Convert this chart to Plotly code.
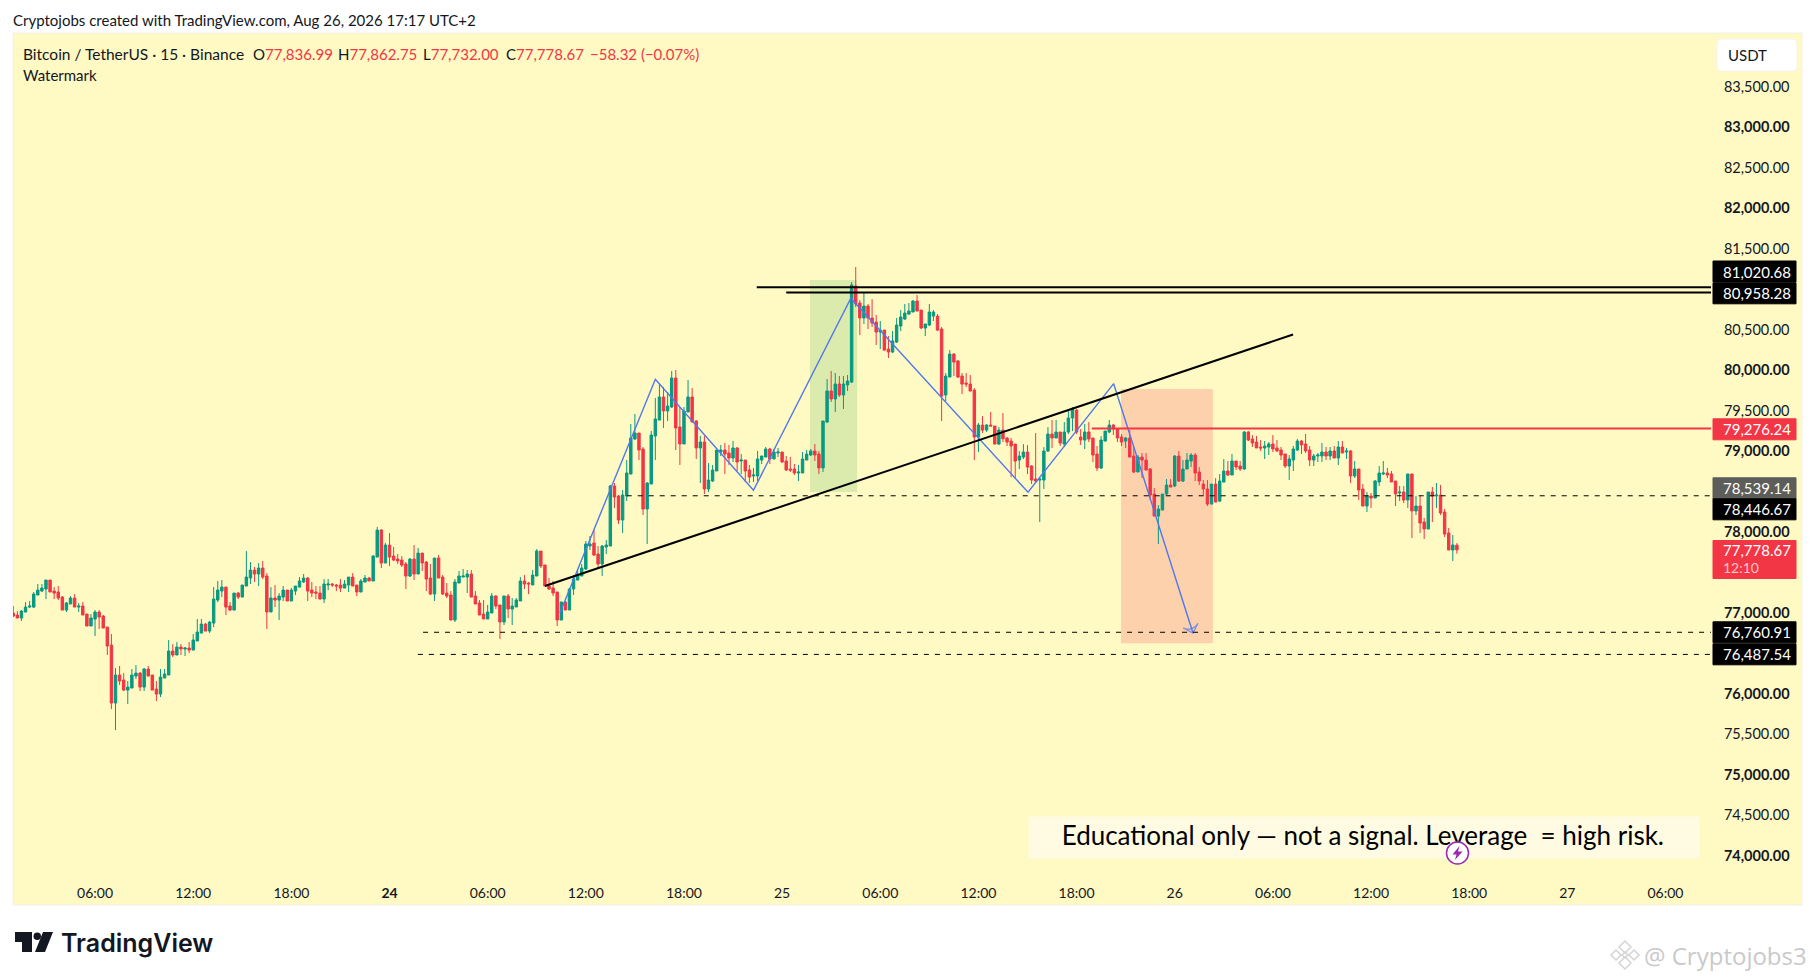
import pandas as pd
import plotly.graph_objects as go

# 15 minute candles, BTC/USDT
times = pd.date_range("2026-08-23 01:00", periods=354, freq="15min")

opens = [
    76998, 76974, 76937, 77011, 77072, 77072, 77221, 77270, 77295, 77406,
    77270, 77258, 77196, 77035, 77110, 77184, 77072, 77085, 76986, 76838,
    76924, 77011, 76961, 76825, 76603, 75887, 76233, 76171, 76047, 76072,
    76220, 76257, 76084, 76307, 76233, 76060, 75998, 76196, 76233, 76529,
    76480, 76578, 76554, 76566, 76541, 76653, 76751, 76862, 76776, 76875,
    77159, 77270, 77319, 77085, 77035, 77245, 77196, 77332, 77431, 77529,
    77480, 77554, 77455, 77011, 77184, 77159, 77196, 77282, 77147, 77270,
    77319, 77381, 77431, 77282, 77258, 77245, 77171, 77344, 77357, 77344,
    77344, 77307, 77344, 77443, 77344, 77258, 77381, 77431, 77394, 77690,
    78023, 77616, 77838, 77702, 77665, 77653, 77604, 77455, 77665, 77480,
    77739, 77628, 77431, 77233, 77678, 77443, 77245,
    77221, 76912, 77369, 77443, 77443, 77480, 77209, 77122, 76986, 76925,
    76999, 77209, 77098, 76888, 77209, 77048, 77073, 77147, 77394, 77369,
    77345, 77456, 77764, 77592, 77332, 77307, 77258, 76912, 77135, 77036,
    77295, 77406, 77456, 77542, 77826, 77863, 77727, 77604, 77814, 77826,
    78567, 78444, 78147, 78444, 78715, 79148, 79222, 79024, 78283, 78592,
    79185, 79382, 79667, 79494, 79543, 79901, 79296, 79086, 79481, 79667,
    79370, 79037, 79111, 78530, 78629, 78753, 78987, 79012, 78975, 78913,
    79037, 78876, 78888, 78765, 78691, 78691, 78888, 78925, 79024, 78901,
    78975, 78987, 78876, 78777, 78777, 78728, 78728, 78888, 78950, 79000,
    78962, 78790, 79358, 79741, 79642, 79827, 79691, 79815,
    79851, 81037, 80827, 80642, 80790, 80642, 80592, 80469, 80493, 80259,
    80222, 80345, 80543, 80629, 80691, 80716, 80852, 80740, 80518, 80555,
    80666, 80666, 80506, 79691, 79913, 80197, 80111, 79925, 79839, 79826,
    79752, 79172, 79320, 79258, 79320, 79308, 79085, 79258, 79160, 79122,
    79085, 78888, 78925, 78987, 78814, 78653, 78641, 78641, 78999, 79209,
    79160, 79234, 79085, 79234, 79407, 79505, 79172, 79135, 79234, 79160,
    78962, 78789, 79122, 79234, 79320, 79271, 79172, 79122, 79160, 78937,
    78740, 78925, 78888, 78777, 78468, 78196, 78270, 78468, 78579, 78567,
    78937, 78628, 78777, 78875, 78950, 78740, 78591, 78530, 78344, 78591,
    78381, 78616, 78753,
    78703, 78876, 78814, 78777, 79234, 79148, 79111, 79049, 79037, 79049,
    79086, 79037, 79012, 78963, 78814, 78888, 79012, 79123, 79086, 79012,
    78888, 78938, 78938, 78987, 78938, 79000, 78913, 79049, 78987, 79000,
    78691, 78777, 78530, 78320, 78444, 78419, 78617, 78716, 78728, 78716,
    78629, 78481, 78493, 78394, 78716, 78259, 78320, 78123, 78036, 78493,
    78444, 78456, 78246, 77987, 77777, 77836.99,
]
highs = [
    77085, 77023, 77035, 77134, 77147, 77258, 77357, 77357, 77406, 77406,
    77319, 77332, 77208, 77134, 77208, 77233, 77122, 77134, 76986, 76986,
    77035, 77035, 76974, 76825, 76739, 76319, 76344, 76257, 76158, 76307,
    76356, 76270, 76319, 76344, 76233, 76158, 76307, 76307, 76665, 76615,
    76640, 76615, 76578, 76640, 76739, 76924, 76924, 76875, 76900, 77319,
    77394, 77406, 77319, 77134, 77245, 77258, 77344, 77764, 77628, 77567,
    77616, 77641, 77492, 77319, 77344, 77245, 77332, 77282, 77307, 77332,
    77443, 77480, 77443, 77381, 77332, 77332, 77418, 77418, 77369, 77357,
    77418, 77406, 77443, 77492, 77344, 77418, 77468, 77443, 77715, 78061,
    78036, 77863, 77986, 77814, 77727, 77702, 77628, 77678, 77838, 77801,
    77739, 77641, 77604, 77678, 77715, 77468, 77369,
    77270, 77419, 77517, 77542, 77530, 77530, 77270, 77159, 77159, 77098,
    77246, 77221, 77098, 77209, 77233, 77184, 77184, 77443, 77468, 77382,
    77530, 77789, 77764, 77592, 77431, 77394, 77258, 77135, 77147, 77307,
    77468, 77542, 77604, 77888, 77950, 78024, 77826, 77839, 77900, 78580,
    78604, 78456, 78518, 78888, 79333, 79457, 79222, 79049, 78617, 79247,
    79654, 79839, 79790, 79728, 79988, 80000, 79543, 79543, 79876, 79778,
    79382, 79185, 79185, 78851, 78827, 79012, 79074, 79098, 79074, 79123,
    79049, 78962, 78888, 78827, 78790, 79000, 78938, 79049, 79037, 79024,
    79037, 78987, 78938, 78925, 78839, 78827, 78987, 79012, 79024, 79086,
    79000, 79370, 79889, 79988, 79963, 79926, 79926, 79938,
    81086, 81272, 80864, 80950, 80815, 80876, 80679, 80605, 80493, 80419,
    80481, 80642, 80740, 80815, 80827, 80864, 80926, 80740, 80568, 80815,
    80740, 80691, 80530, 79962, 80246, 80209, 80123, 79962, 79962, 79938,
    79777, 79345, 79431, 79332, 79481, 79308, 79295, 79468, 79172, 79160,
    79085, 78999, 79085, 79073, 78826, 79221, 78665, 79048, 79295, 79382,
    79382, 79234, 79357, 79493, 79542, 79518, 79271, 79332, 79357, 79160,
    79061, 79184, 79246, 79382, 79332, 79271, 79209, 79172, 79258, 79048,
    78950, 78974, 78974, 78789, 78542, 78332, 78468, 78653, 78653, 78950,
    78999, 78888, 78974, 78974, 78974, 78801, 78641, 78641, 78591, 78665,
    78715, 78900, 78876,
    78963, 78876, 78876, 79247, 79247, 79197, 79185, 79135, 79123, 79111,
    79197, 79135, 79049, 78963, 78950, 79061, 79148, 79135, 79210, 79061,
    78963, 78975, 79098, 79049, 79049, 79061, 79123, 79123, 79037, 79012,
    78876, 78777, 78592, 78493, 78481, 78641, 78814, 78876, 78790, 78753,
    78629, 78567, 78567, 78716, 78716, 78444, 78444, 78172, 78493, 78555,
    78604, 78580, 78283, 78049, 77962, 77862.75,
]
lows = [
    76949, 76937, 76900, 77011, 77060, 77060, 77221, 77258, 77171, 77258,
    77171, 77159, 77035, 77011, 77110, 77072, 77011, 76974, 76838, 76838,
    76714, 76801, 76813, 76480, 75813, 75553, 76109, 76035, 75874, 76072,
    76183, 76035, 76035, 76220, 76047, 75911, 75961, 76196, 76233, 76455,
    76480, 76480, 76467, 76504, 76541, 76653, 76751, 76776, 76751, 76825,
    77134, 77196, 76974, 77023, 77035, 77171, 77196, 77332, 77357, 77381,
    77332, 77418, 76801, 77011, 77072, 76912, 77147, 77147, 77147, 77221,
    77319, 77369, 77147, 77196, 77171, 77171, 77122, 77282, 77319, 77270,
    77258, 77307, 77258, 77332, 77208, 77258, 77381, 77394, 77394, 77690,
    77554, 77616, 77579, 77641, 77604, 77567, 77295, 77443, 77406, 77480,
    77517, 77270, 77221, 77147, 77431, 77221, 77184,
    76912, 76888, 77369, 77443, 77246, 77196, 77110, 76974, 76925, 76925,
    76999, 77048, 76678, 76850, 76937, 76850, 77073, 77147, 77295, 77233,
    77345, 77456, 77554, 77332, 77283, 77209, 76838, 76912, 77036, 77036,
    77221, 77406, 77456, 77530, 77777, 77703, 77554, 77456, 77727, 77826,
    78296, 78098, 77987, 78382, 78715, 79135, 78888, 78209, 77851, 78592,
    78888, 79382, 79284, 79370, 79531, 79012, 78827, 79086, 79481, 79358,
    78901, 78604, 78468, 78493, 78617, 78753, 78938, 78715, 78827, 78864,
    78753, 78715, 78617, 78604, 78617, 78629, 78839, 78925, 78839, 78901,
    78925, 78851, 78753, 78740, 78703, 78629, 78728, 78888, 78938, 78876,
    78715, 78740, 79345, 79605, 79481, 79667, 79518, 79741,
    79839, 80778, 80432, 80568, 80506, 80530, 80308, 80259, 80234, 80148,
    80209, 80333, 80481, 80617, 80679, 80716, 80728, 80506, 80419, 80543,
    80605, 80481, 79369, 79617, 79913, 79925, 79901, 79703, 79789, 79740,
    78888, 78987, 79221, 79234, 79308, 79085, 79073, 79110, 79061, 78678,
    78653, 78777, 78900, 78715, 78591, 78604, 78122, 78530, 78987, 79036,
    79160, 79061, 79048, 79209, 79246, 79209, 79073, 79024, 79110, 78863,
    78752, 78777, 79122, 79221, 79197, 79110, 79061, 79036, 78925, 78727,
    78740, 78665, 78764, 78394, 78196, 77850, 78270, 78456, 78554, 78554,
    78616, 78616, 78777, 78801, 78628, 78579, 78456, 78320, 78344, 78369,
    78369, 78616, 78691,
    78703, 78765, 78753, 78765, 79123, 79049, 79037, 79000, 78901, 78950,
    78987, 78987, 78888, 78790, 78641, 78753, 79000, 78963, 78975, 78814,
    78814, 78864, 78864, 78888, 78888, 78913, 78827, 78975, 78901, 78604,
    78666, 78394, 78320, 78246, 78296, 78419, 78567, 78703, 78666, 78617,
    78320, 78382, 78357, 78296, 77925, 78209, 77987, 77913, 78036, 78123,
    78296, 78209, 77937, 77777, 77641, 77732.00,
]
closes = [
    76961, 76937, 77023, 77072, 77085, 77233, 77282, 77307, 77406, 77258,
    77245, 77184, 77035, 77122, 77184, 77072, 77085, 76974, 76838, 76937,
    77011, 76949, 76813, 76591, 75887, 76233, 76158, 76047, 76084, 76233,
    76257, 76084, 76307, 76220, 76047, 75998, 76208, 76245, 76529, 76480,
    76578, 76554, 76566, 76541, 76665, 76764, 76862, 76776, 76887, 77171,
    77282, 77319, 77072, 77035, 77245, 77196, 77344, 77443, 77529, 77480,
    77554, 77443, 77011, 77184, 77159, 77208, 77282, 77147, 77282, 77332,
    77394, 77431, 77270, 77245, 77245, 77171, 77357, 77357, 77344, 77332,
    77307, 77357, 77443, 77332, 77258, 77394, 77431, 77394, 77702, 78023,
    77616, 77838, 77690, 77653, 77641, 77591, 77455, 77665, 77480, 77739,
    77616, 77418, 77233, 77678, 77431, 77233, 77208,
    76912, 77382, 77456, 77456, 77480, 77196, 77110, 76974, 76925, 77011,
    77209, 77085, 76888, 77209, 77048, 77085, 77159, 77394, 77357, 77357,
    77468, 77764, 77579, 77332, 77295, 77246, 76912, 77135, 77036, 77295,
    77419, 77468, 77554, 77851, 77851, 77715, 77604, 77826, 77839, 78567,
    78431, 78147, 78456, 78728, 79160, 79222, 79012, 78283, 78604, 79197,
    79395, 79667, 79494, 79555, 79901, 79284, 79086, 79494, 79667, 79358,
    79037, 79111, 78530, 78641, 78765, 79012, 79012, 78962, 78913, 79037,
    78864, 78888, 78753, 78678, 78703, 78901, 78938, 79024, 78901, 78987,
    78987, 78864, 78765, 78765, 78728, 78740, 78901, 78962, 79000, 78950,
    78790, 79370, 79741, 79642, 79827, 79691, 79827, 79864,
    81049, 80815, 80642, 80790, 80642, 80580, 80469, 80493, 80246, 80222,
    80358, 80555, 80654, 80703, 80728, 80852, 80728, 80518, 80568, 80716,
    80716, 80493, 79678, 79925, 80197, 80098, 79913, 79826, 79826, 79740,
    79172, 79320, 79258, 79320, 79308, 79085, 79258, 79151, 79110, 79061,
    78875, 78937, 78987, 78801, 78641, 78628, 78653, 78999, 79209, 79160,
    79234, 79098, 79234, 79407, 79518, 79234, 79135, 79234, 79147, 78950,
    78789, 79135, 79246, 79320, 79271, 79160, 79110, 79160, 78925, 78740,
    78925, 78888, 78764, 78456, 78196, 78283, 78468, 78579, 78554, 78937,
    78628, 78777, 78888, 78950, 78727, 78628, 78530, 78344, 78591, 78369,
    78628, 78752, 78703,
    78876, 78802, 78777, 79234, 79135, 79098, 79037, 79037, 79061, 79086,
    79024, 79000, 78950, 78814, 78901, 79024, 79123, 79074, 79000, 78888,
    78938, 78950, 78987, 78938, 79000, 78913, 79049, 78975, 79000, 78691,
    78777, 78518, 78320, 78444, 78419, 78629, 78728, 78728, 78703, 78617,
    78469, 78493, 78394, 78716, 78259, 78320, 78110, 78036, 78493, 78444,
    78456, 78234, 77974, 77777, 77839, 77778.67,
]
assert len(opens) == len(highs) == len(lows) == len(closes) == len(times)

# drawings on the chart
zigzag_times = ["2026-08-24 10:25", "2026-08-24 16:15", "2026-08-24 22:15", "2026-08-25 04:12",
                "2026-08-25 15:02", "2026-08-25 20:16", "2026-08-26 01:07"]
zigzag_prices = [76999, 79885, 78514, 80886, 78490, 79831, 76752]
trend_times = ["2026-08-24 09:30", "2026-08-26 07:14"]
trend_prices = [77332, 80438]
solid_levels = [81020.68, 80958.28]
solid_starts = ["2026-08-24 22:27", "2026-08-25 00:15"]
dashed_levels = [78446.67, 76760.91, 76487.54]
dashed_starts = ["2026-08-24 14:30", "2026-08-24 02:03", "2026-08-24 01:44"]
red_level = 79276.24
red_start = "2026-08-25 18:56"
green_box = ["2026-08-25 01:42", "2026-08-25 04:35", 78493, 81112]
orange_box = ["2026-08-25 20:43", "2026-08-26 02:20", 76625, 79765]
disclaimer = "Educational only — not a signal. Leverage  = high risk."

tick_prices = [83500, 83000, 82500, 82000, 81500, 80500, 80000, 79500, 79000,
               78000, 77000, 76000, 75500, 75000, 74500, 74000]
bold_prices = [83000, 82000, 80000, 79000, 78000, 77000, 76000, 75000, 74000]
tick_times = ["2026-08-23 06:00", "2026-08-23 12:00", "2026-08-23 18:00", "2026-08-24 00:00",
              "2026-08-24 06:00", "2026-08-24 12:00", "2026-08-24 18:00", "2026-08-25 00:00",
              "2026-08-25 06:00", "2026-08-25 12:00", "2026-08-25 18:00", "2026-08-26 00:00",
              "2026-08-26 06:00", "2026-08-26 12:00", "2026-08-26 18:00", "2026-08-27 00:00",
              "2026-08-27 06:00"]
tick_time_labels = ["06:00", "12:00", "18:00", "<b>24</b>", "06:00", "12:00", "18:00", "25",
                    "06:00", "12:00", "18:00", "26", "06:00", "12:00", "18:00", "27", "06:00"]

UP = "#089981"
DOWN = "#f23645"
INK = "#131722"
PANEL = "#fff9c4"
FONT = "Lato"

# plot area in screenshot pixels, everything around it is placed relative to this
L, R, T, B = 13, 1711, 33, 870
# the page body keeps its default 8px margin
PAGE = 8


def px(x):
    return (x - L) / (R - L)


def py(y):
    return (B - y) / (B - T)


def box(x0, y0, x1, y1, fill, layer="above"):
    return dict(type="rect", xref="paper", yref="paper", x0=px(x0), x1=px(x1), y0=py(y0), y1=py(y1),
                fillcolor=fill, line=dict(color=fill, width=1), layer=layer)


def path(points, fill="rgba(0,0,0,0)", line=None, width=1):
    d = "M" + " L".join(f"{px(x):.5f},{py(y):.5f}" for x, y in points) + " Z"
    return dict(type="path", xref="paper", yref="paper", path=d, fillcolor=fill,
                line=dict(color=line or fill, width=width if line else 0), layer="above")


def note(text, x, y, size=15, color=INK, anchor="left", family=FONT, weight=None):
    return dict(text=text, xref="paper", yref="paper", x=px(x), y=py(y), xanchor=anchor, yanchor="middle",
                showarrow=False, font=dict(family=family, size=size, color=color, weight=weight))


fig = go.Figure()

fig.add_trace(go.Candlestick(
    x=times, open=opens, high=highs, low=lows, close=closes,
    increasing=dict(line=dict(color=UP, width=1), fillcolor=UP),
    decreasing=dict(line=dict(color=DOWN, width=1), fillcolor=DOWN),
    whiskerwidth=0, showlegend=False, hoverinfo="skip",
))

fig.add_trace(go.Scatter(
    x=zigzag_times, y=zigzag_prices, mode="lines+markers", showlegend=False, hoverinfo="skip",
    line=dict(color="#4f77f0", width=1.4),
    marker=dict(symbol="arrow-wide-open", size=[0, 0, 0, 0, 0, 0, 11], angleref="previous",
                color="#4f77f0", line=dict(color="#4f77f0", width=1.4)),
))

# a text trace, not an annotation, so the lightning badge can sit on top of it
fig.add_trace(go.Scatter(
    x=["2026-08-26 11:30"], y=[74220], mode="text", text=[disclaimer], textposition="middle center",
    textfont=dict(family=FONT, size=26, color="black"), showlegend=False, hoverinfo="skip",
))

shapes = [
    # cream panel behind the whole chart, axes included
    dict(type="rect", xref="paper", yref="paper", x0=px(13), x1=px(1802), y0=py(33), y1=py(905),
         fillcolor=PANEL, line=dict(color="#f0f0ea", width=1), layer="below"),
    box(1029, 817, 1699, 858, "#fffbe3", layer="below"),
    dict(type="rect", x0=green_box[0], x1=green_box[1], y0=green_box[2], y1=green_box[3],
         fillcolor="#dbeaad", line=dict(width=0), layer="below"),
    dict(type="rect", x0=orange_box[0], x1=orange_box[1], y0=orange_box[2], y1=orange_box[3],
         fillcolor="#fdd1ab", line=dict(width=0), layer="below"),
    dict(type="line", x0=trend_times[0], x1=trend_times[1], y0=trend_prices[0], y1=trend_prices[1],
         line=dict(color="black", width=2)),
    dict(type="line", x0=red_start, x1="2026-08-27 09:00", xref="x", y0=red_level, y1=red_level,
         line=dict(color=DOWN, width=2)),
]
for level, start in zip(solid_levels, solid_starts):
    shapes.append(dict(type="line", x0=start, x1="2026-08-27 09:00", y0=level, y1=level,
                       line=dict(color="black", width=2)))
for level, start in zip(dashed_levels, dashed_starts):
    shapes.append(dict(type="line", x0=start, x1="2026-08-27 09:00", y0=level, y1=level,
                       line=dict(color="black", width=1, dash="5px,6px")))

annotations = [
    note("Cryptojobs created with TradingView.com, Aug 26, 2026 17:17 UTC+2", 11, 20),
    note("Bitcoin / TetherUS · 15 · Binance", 21, 54, size=15.5),
    note("Watermark", 21, 75),
]

# OHLC readout in the legend line
for text, x in [("O<span style='color:#f23645'>77,836.99</span>", 251),
                ("H<span style='color:#f23645'>77,862.75</span>", 336),
                ("L<span style='color:#f23645'>77,732.00</span>", 421),
                ("C<span style='color:#f23645'>77,778.67</span>", 504),
                ("<span style='color:#f23645'>−58.32 (−0.07%)</span>", 588)]:
    annotations.append(note(text, x, 54))

# price tags on the right
tags = [("81,020.68", 271.5, "black"), ("80,958.28", 293.3, "black"), ("79,276.24", 429.3, DOWN),
        ("78,539.14", 488.3, "#5d5d5a"), ("78,446.67", 509.3, "black"),
        ("76,760.91", 632.3, "black"), ("76,487.54", 654.3, "black")]
for text, y, colour in tags:
    shapes.append(box(1713, y - 10.5, 1796, y + 10.5, colour))
    annotations.append(note(text, 1721, y, color="white"))
shapes.append(box(1713, 540.5, 1796, 578.5, DOWN))
annotations.append(note("77,778.67", 1721, 550, color="white"))
annotations.append(note("12:10", 1721, 567, size=14, color="#ffc4c8"))

# USDT button
shapes.append(dict(type="path", xref="paper", yref="paper", layer="above", fillcolor="white",
                   line=dict(color="#f3f3ee", width=1),
                   path=(f"M{px(1721)},{py(39)} L{px(1793)},{py(39)} Q{px(1797)},{py(39)} {px(1797)},{py(43)} "
                         f"L{px(1797)},{py(67)} Q{px(1797)},{py(71)} {px(1793)},{py(71)} L{px(1721)},{py(71)} "
                         f"Q{px(1717)},{py(71)} {px(1717)},{py(67)} L{px(1717)},{py(43)} "
                         f"Q{px(1717)},{py(39)} {px(1721)},{py(39)} Z")))
annotations.append(note("USDT", 1726, 55))

# lightning badge
shapes.append(dict(type="circle", xref="paper", yref="paper", layer="above", x0=px(1446.5), x1=px(1468.5),
                   y0=py(842), y1=py(864), fillcolor="white", line=dict(color="#9c27b0", width=1.5)))
shapes.append(path([(1459.5, 846), (1452.5, 854.5), (1456.5, 854.5), (1455, 860), (1462.5, 851.5),
                    (1458, 851.5)], fill="#9c27b0"))

# TradingView logo
shapes.append(path([(15, 932), (32, 932), (32, 952), (22, 952), (22, 942), (15, 942)], fill="#131722"))
shapes.append(dict(type="circle", xref="paper", yref="paper", layer="above", x0=px(33.5), x1=px(41),
                   y0=py(932.5), y1=py(940), fillcolor="#131722", line=dict(width=0)))
shapes.append(path([(43, 932), (53, 932), (45, 952), (35, 952)], fill="#131722"))
annotations.append(note("TradingView", 59, 943, size=25, family="Inter", weight=600))

# watermark in the bottom corner
for cx, cy, r in [(1625, 947, 6), (1616, 955, 5), (1634, 955, 5), (1625, 963, 6), (1625, 955, 3)]:
    shapes.append(path([(cx, cy - r), (cx + r, cy), (cx, cy + r), (cx - r, cy)], line="#d4d4d4", width=1.5))
annotations.append(note("@ Cryptojobs3", 1642, 955, size=24, color="#c9c9c9", family="Open Sans"))

fig.update_layout(
    width=1815 - 2 * PAGE, height=980 - 2 * PAGE,
    margin=dict(l=L - PAGE, r=1815 - PAGE - R, t=T - PAGE, b=980 - PAGE - B, pad=0),
    paper_bgcolor="white", plot_bgcolor="rgba(0,0,0,0)",
    font=dict(family=FONT, size=14, color=INK),
    showlegend=False, boxgap=0.15, dragmode=False,
    shapes=shapes, annotations=annotations,
    xaxis=dict(
        range=["2026-08-23 00:59", "2026-08-27 08:47"], rangeslider=dict(visible=False),
        showgrid=False, zeroline=False, showline=False,
        tickmode="array", tickvals=tick_times, ticktext=tick_time_labels,
        ticks="outside", ticklen=10, tickcolor="rgba(0,0,0,0)", tickfont=dict(size=14),
    ),
    yaxis=dict(
        range=[73825, 84162], side="right", showgrid=False, zeroline=False, showline=False,
        tickmode="array", tickvals=tick_prices,
        ticktext=[f"<b>{p:,.2f}</b>" if p in bold_prices else f"{p:,.2f}" for p in tick_prices],
        ticks="outside", ticklen=9, tickcolor="rgba(0,0,0,0)", tickfont=dict(size=14.5),
    ),
)

fig.write_html("out.html")
